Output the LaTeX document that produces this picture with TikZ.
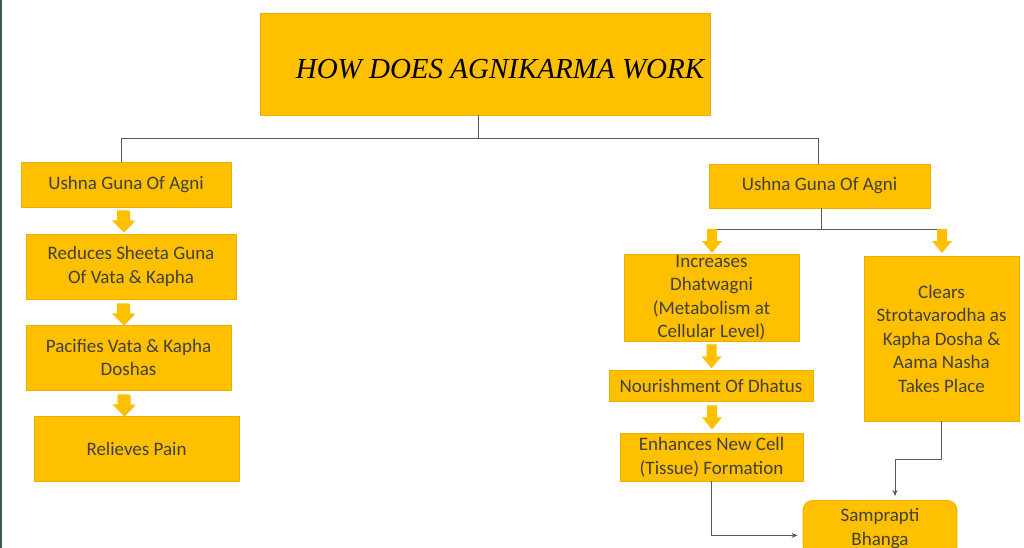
\documentclass[tikz,border=0pt]{standalone}
\usepackage{fontspec}
\setmainfont{Carlito}
\newfontfamily\titlefont{Liberation Serif}
\usetikzlibrary{arrows.meta,calc}
\definecolor{gold}{HTML}{FFC000}
\definecolor{goldedge}{HTML}{E8AE00}
\definecolor{txt}{HTML}{404040}
\definecolor{conncol}{HTML}{595959}
\definecolor{edgegreen}{HTML}{3E5F55}
\tikzset{
  box/.style={fill=gold, draw=goldedge, line width=0.8, inner sep=0, align=center,
    text=txt, font=\fontsize{19}{23.5}\selectfont},
  conn/.style={draw=conncol, line width=1},
  tipconn/.style={conn, -{Stealth[length=6,width=5]}},
  downarrow/.pic={\fill[gold] (-5,0) -- (5,0) -- (5,12) -- (10,12) -- (0,24) -- (-10,12) -- (-5,12) -- cycle;},
  downarrowsm/.pic={\fill[gold!85!gray!60!gold] (-5,1) -- (7,1) -- (7,11) -- (12,11) -- (1,22) -- (-10,11) -- (-5,11) -- cycle;
    \fill[gold] (-6,0) -- (6,0) -- (6,10) -- (11,10) -- (0,21) -- (-11,10) -- (-6,10) -- cycle;}
}
\begin{document}
\begin{tikzpicture}[x=1pt,y=-1pt]
\useasboundingbox (0,0) rectangle (1024,548);
\clip (0,0) rectangle (1024,548);
\fill[white] (0,0) rectangle (1024,548);
\fill[edgegreen] (0,0) rectangle (2,548);

% title
\node[box, minimum width=450, minimum height=102] (T) at (485,64) {};
\node[font=\titlefont\itshape\fontsize{29}{34}\selectfont, text=black, inner sep=0] (Tt) at (500,69) {HOW DOES AGNIKARMA WORK};

% left column
\node[box, minimum width=210, minimum height=45] (L1) at (126,184.5) {Ushna Guna Of Agni};
\node[box, minimum width=210, minimum height=65] (L2) at (131,266.5) {Reduces Sheeta Guna\\Of Vata \& Kapha};
\node[box, minimum width=205, minimum height=65] (L3) at (128.5,357.5) {Pacifies Vata \& Kapha\\Doshas};
\node[box, minimum width=205, minimum height=65] (L4) at (136.5,448.5) {Relieves Pain};

% right column
\node[box, minimum width=221, minimum height=44] (R1) at (819.5,186) {Ushna Guna Of Agni};
\node[box, minimum width=175, minimum height=87] (R2) at (711.5,297.5) {Increases\\Dhatwagni\\(Metabolism at\\Cellular Level)};
\node[box, minimum width=155, minimum height=165] (R3) at (941.5,338.5) {Clears\\Strotavarodha as\\Kapha Dosha \&\\Aama Nasha\\Takes Place};
\node[box, minimum width=204, minimum height=31] (R4) at (711,385.5) {Nourishment Of Dhatus};
\node[box, minimum width=183, minimum height=48] (R5) at (711.5,457) {Enhances New Cell\\(Tissue) Formation};
\node[box, rounded corners=10, minimum width=154, minimum height=56, anchor=north] (S) at (880,500) {Samprapti\\Bhanga};

% tree connectors
\coordinate (j) at ($(T.south)+(-7,23)$);
\draw[conn] ([xshift=-7]T.south) -- (j);
\draw[conn] ([xshift=-5]L1.north) |- (j) -| ([xshift=-1.5]R1.north);
\coordinate (ka) at (712,229);
\coordinate (kb) at (942,229);
\draw[conn] ([xshift=2]R1.south) -- ($(R1.south)+(2,21)$);
\draw[conn] (ka) -- (kb);

% block arrows
\path ($(L1.south)+(-3,3)$) pic{downarrowsm};
\path ($(L2.south)+(-8,4)$) pic{downarrowsm};
\path ($(L3.south)+(-5,4)$) pic{downarrowsm};
\path (ka) pic{downarrow};
\path (kb) pic{downarrow};
\path ($(R2.south)+(0,3)$) pic{downarrow};
\path ($(R4.south)+(1,4)$) pic{downarrow};

% to Samprapti Bhanga
\draw[tipconn] (R5.south) |- ($(S.west)+(-5,7)$);
\draw[tipconn] (R3.south) -- ++(0,38) -| ($(S.north)+(15,-4)$);
\end{tikzpicture}
\end{document}
